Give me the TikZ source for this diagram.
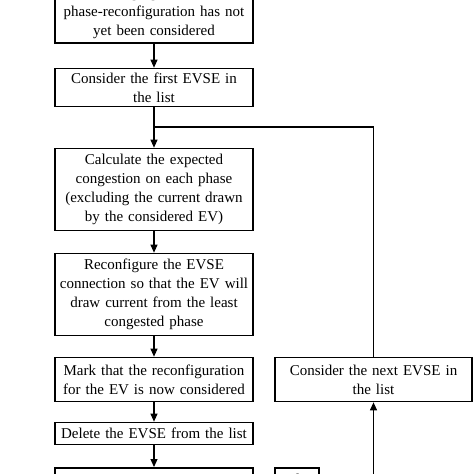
\documentclass[tikz,border=0pt]{standalone}
\usepackage{fontspec}
\setmainfont{Liberation Serif}
\usetikzlibrary{arrows.meta}
\begin{document}
\begin{tikzpicture}[x=1pt,y=-1pt,
  stepbox/.style={draw, line width=1.7pt, inner sep=0pt, align=center,
    font=\fontsize{15}{19}\selectfont, text width=196pt},
  conn/.style={line width=1.1pt},
  arr/.style={conn, -{Triangle[length=8pt,width=7pt]}}]
\useasboundingbox (0,0) rectangle (474,474);
\clip (0,0) rectangle (474,474);
\node[stepbox, minimum width=198pt, minimum height=60pt] (b1) at (154,13)
  {List charging EVs whose\\phase-reconfiguration has not\\yet been considered};
\node[stepbox, minimum width=198pt, minimum height=38pt] (b2) at (154,87.5)
  {Consider the first EVSE in\\the list};
\node[stepbox, minimum width=198pt, minimum height=82pt] (b3) at (154,189.5)
  {Calculate the expected\\congestion on each phase\\(excluding the current drawn\\by the considered EV)};
\node[stepbox, minimum width=198pt, minimum height=82pt] (b4) at (154,294.5)
  {Reconfigure the EVSE\\connection so that the EV will\\draw current from the least\\congested phase};
\node[stepbox, minimum width=198pt, minimum height=44pt] (b5) at (154,379.5)
  {Mark that the reconfiguration\\for the EV is now considered};
\node[stepbox, minimum width=197pt, minimum height=44pt] (bn) at (373.5,379.5)
  {Consider the next EVSE in\\the list};
\node[stepbox, minimum width=198pt, minimum height=22pt] (b6) at (154,433.5)
  {Delete the EVSE from the list};
\node[stepbox, minimum width=198pt, minimum height=40pt, anchor=north] (b7) at (154,467)
  {Is the list empty?};
\node[stepbox, text width=40pt, minimum width=44pt, minimum height=24pt, anchor=north west] (bf) at (274,467)
  {False};
\coordinate (m) at (154,127);
\coordinate (up) at (373.5,480);
\draw[arr] (b1) -- (b2);
\draw[arr] (b2) -- (b3);
\draw[conn] (bn.north) |- (m);
\draw[arr] (b3) -- (b4);
\draw[arr] (b4) -- (b5);
\draw[arr] (b5) -- (b6);
\draw[arr] (b6) -- (b7);
\draw[arr] (up) -- (bn.south);
\end{tikzpicture}
\end{document}
